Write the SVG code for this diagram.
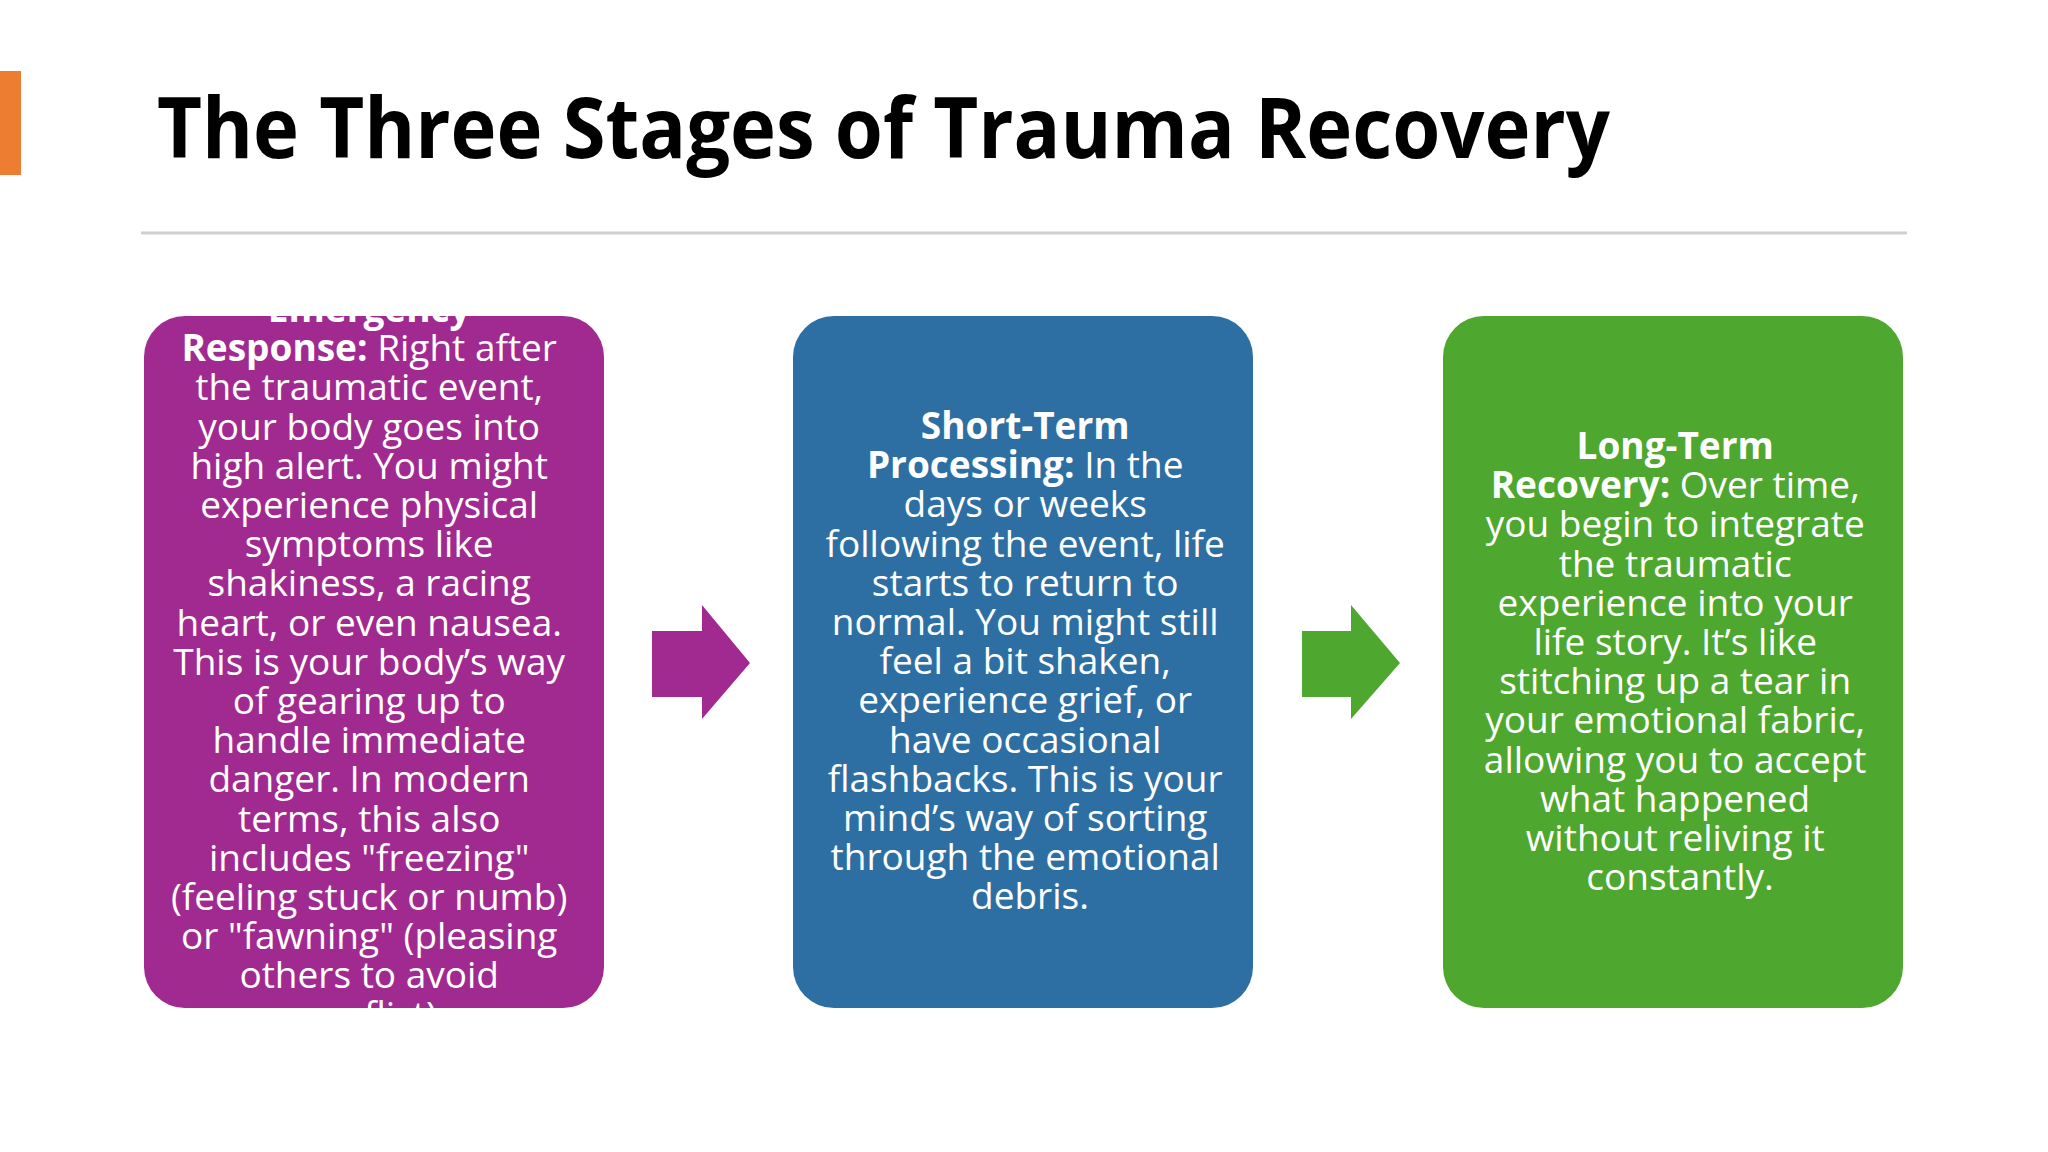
<svg xmlns="http://www.w3.org/2000/svg" width="2048" height="1152" viewBox="0 0 2048 1152">
<style>
.t{font-family:"Open Sans","Noto Sans",sans-serif;font-size:37px;fill:#fff;text-anchor:middle}
.b{font-weight:bold}
</style>
<defs><clipPath id="c1"><rect x="130" y="300" width="490" height="718"/></clipPath></defs>
<rect width="2048" height="1152" fill="#fff"/>
<rect x="0" y="71" width="21" height="104" fill="#ED7D31"/>
<text x="157" y="158" font-family="Open Sans,Noto Sans,sans-serif" font-weight="bold" font-size="84" textLength="1453" lengthAdjust="spacingAndGlyphs" fill="#000">The Three Stages of Trauma Recovery</text>
<line x1="141" y1="233" x2="1907" y2="233" stroke="#d0d0d0" stroke-width="3"/>
<g id="connectors">
<polygon points="652,631 702,631 702,605 750,663 702,719 702,697 652,697" fill="#A02A90"/>
<polygon points="1302,631 1351,631 1351,605 1400,663 1351,719 1351,697 1302,697" fill="#4EA72E"/>
</g>
<g id="stage1">
<rect x="144" y="316" width="460" height="692" rx="41" fill="#A02A90"/>
<text class="t" clip-path="url(#c1)">
<tspan x="374" y="322" class="b">Emergency</tspan>
<tspan x="374" y="361.2"><tspan class="b">Response:</tspan> Right after</tspan>
<tspan x="374" y="400.4">the traumatic event,</tspan>
<tspan x="374" y="439.6">your body goes into</tspan>
<tspan x="374" y="478.8">high alert. You might</tspan>
<tspan x="374" y="518">experience physical</tspan>
<tspan x="374" y="557.2">symptoms like</tspan>
<tspan x="374" y="596.4">shakiness, a racing</tspan>
<tspan x="374" y="635.6">heart, or even nausea.</tspan>
<tspan x="374" y="674.8">This is your body’s way</tspan>
<tspan x="374" y="714">of gearing up to</tspan>
<tspan x="374" y="753.2">handle immediate</tspan>
<tspan x="374" y="792.4">danger. In modern</tspan>
<tspan x="374" y="831.6">terms, this also</tspan>
<tspan x="374" y="870.8">includes "freezing"</tspan>
<tspan x="374" y="910">(feeling stuck or numb)</tspan>
<tspan x="374" y="949.2">or "fawning" (pleasing</tspan>
<tspan x="374" y="988.4">others to avoid</tspan>
<tspan x="374" y="1027.6">conflict).</tspan>
</text>
</g>
<g id="stage2">
<rect x="793" y="316" width="460" height="692" rx="41" fill="#2E6FA3"/>
<text class="t">
<tspan x="1030" y="439" class="b">Short-Term</tspan>
<tspan x="1030" y="478.2"><tspan class="b">Processing:</tspan> In the</tspan>
<tspan x="1030" y="517.4">days or weeks</tspan>
<tspan x="1030" y="556.6">following the event, life</tspan>
<tspan x="1030" y="595.8">starts to return to</tspan>
<tspan x="1030" y="635">normal. You might still</tspan>
<tspan x="1030" y="674.2">feel a bit shaken,</tspan>
<tspan x="1030" y="713.4">experience grief, or</tspan>
<tspan x="1030" y="752.6">have occasional</tspan>
<tspan x="1030" y="791.8">flashbacks. This is your</tspan>
<tspan x="1030" y="831">mind’s way of sorting</tspan>
<tspan x="1030" y="870.2">through the emotional</tspan>
<tspan x="1030" y="909.4">debris.</tspan>
</text>
</g>
<g id="stage3">
<rect x="1443" y="316" width="460" height="692" rx="41" fill="#4EA72E"/>
<text class="t">
<tspan x="1680" y="459" class="b">Long-Term</tspan>
<tspan x="1680" y="498.2"><tspan class="b">Recovery:</tspan> Over time,</tspan>
<tspan x="1680" y="537.4">you begin to integrate</tspan>
<tspan x="1680" y="576.6">the traumatic</tspan>
<tspan x="1680" y="615.8">experience into your</tspan>
<tspan x="1680" y="655">life story. It’s like</tspan>
<tspan x="1680" y="694.2">stitching up a tear in</tspan>
<tspan x="1680" y="733.4">your emotional fabric,</tspan>
<tspan x="1680" y="772.6">allowing you to accept</tspan>
<tspan x="1680" y="811.8">what happened</tspan>
<tspan x="1680" y="851">without reliving it</tspan>
<tspan x="1680" y="890.2">constantly.</tspan>
</text>
</g>
</svg>
